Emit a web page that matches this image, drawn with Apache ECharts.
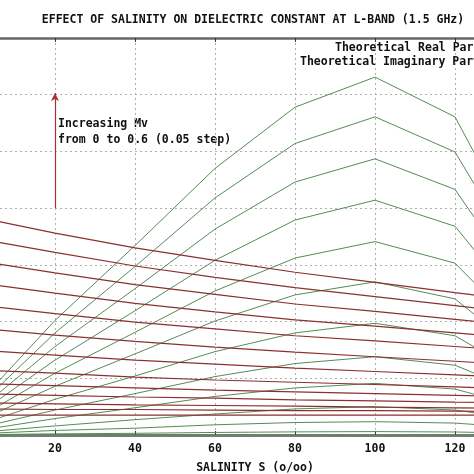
<!DOCTYPE html>
<html>
<head>
<meta charset="utf-8">
<script src="https://cdn.jsdelivr.net/npm/echarts@6/dist/echarts.min.js"></script>
<style>
  html,body{margin:0;padding:0;background:#fff;overflow:hidden;}
  body{width:474px;height:474px;position:relative;}
  /* the plot runs past both edges of the picture, like the cropped original */
  #chart{position:absolute;left:-25px;top:0;width:560px;height:474px;}
</style>
</head>
<body>
<div id="chart"></div>
<script>
// salinity (o/oo) where the curves were read
const salinity = [0, 20, 40, 60, 80, 100, 120, 140]
// soil moisture Mv, 0 to 0.6 by 0.05
const mvSteps = ['0.60','0.55','0.50','0.45','0.40','0.35','0.30','0.25','0.20','0.15','0.10','0.05','0.00']

// theoretical real part, one row per Mv (top row = 0.60)
const realPart = [
  [38.5, 35.6, 33.0, 30.8, 28.7, 26.9, 25.1, 23.4],
  [34.7, 32.2, 29.8, 27.8, 26.0, 24.4, 22.8, 21.2],
  [30.8, 28.6, 26.5, 24.8, 23.1, 21.8, 20.4, 19.0],
  [26.9, 25.0, 23.2, 21.7, 20.3, 19.2, 18.0, 16.8],
  [23.0, 21.4, 19.9, 18.7, 17.5, 16.6, 15.6, 14.6],
  [18.9, 17.6, 16.5, 15.5, 14.6, 13.8, 13.0, 12.2],
  [15.0, 14.1, 13.2, 12.5, 11.8, 11.2, 10.6, 10.0],
  [11.5, 10.9, 10.2, 9.7, 9.3, 8.9, 8.5, 8.0],
  [9.1, 8.7, 8.3, 7.9, 7.6, 7.3, 7.0, 6.7],
  [7.3, 7.0, 6.7, 6.5, 6.2, 6.0, 5.8, 5.7],
  [5.7, 5.5, 5.3, 5.2, 5.1, 4.9, 4.8, 4.7],
  [4.6, 4.5, 4.5, 4.4, 4.3, 4.3, 4.2, 4.1],
  [3.5, 3.5, 3.5, 3.5, 3.5, 3.5, 3.5, 3.5]
]

// theoretical imaginary part, same order
const imagPart = [
  [5.0, 20.2, 33.4, 47.0, 57.8, 63.1, 56.1, 29.7],
  [4.5, 18.0, 29.7, 41.8, 51.4, 56.1, 49.9, 26.4],
  [3.9, 15.6, 25.8, 36.3, 44.6, 48.7, 43.3, 22.9],
  [3.3, 13.2, 21.9, 30.8, 37.9, 41.4, 36.8, 19.5],
  [2.7, 10.9, 18.1, 25.4, 31.2, 34.1, 30.3, 16.0],
  [2.2, 8.6, 14.3, 20.1, 24.7, 27.0, 24.0, 12.7],
  [1.6, 6.3, 10.4, 14.7, 18.0, 19.7, 17.5, 9.3],
  [1.1, 4.4, 7.3, 10.3, 12.6, 13.8, 12.3, 6.5],
  [0.7, 2.9, 4.8, 6.8, 8.3, 9.1, 8.1, 4.3],
  [0.4, 1.6, 2.7, 3.7, 4.6, 5.0, 4.4, 2.4],
  [0.2, 0.8, 1.2, 1.8, 2.2, 2.35, 2.1, 1.1],
  [0.05, 0.2, 0.3, 0.45, 0.55, 0.6, 0.53, 0.28],
  [0, 0, 0, 0, 0, 0, 0, 0]
]

// arrow "increasing Mv" drawn at S = 20
const arrowFrom = [20, 40]
const arrowTo = [20, 60.3]

let chart = echarts.init(document.getElementById('chart'))
let font = 'DejaVu Sans Mono'
let textFont = 'bold 11.5px "DejaVu Sans Mono"'
let series = []

for(let i=0;i<imagPart.length;i++){
  series.push({
    name:'Imag Mv ' + mvSteps[i],
    type:'line',
    symbol:'none',
    silent:true,
    data: salinity.map((s,j) => [s, imagPart[i][j]]),
    lineStyle:{color:'#548c54', width:1},
    z:2
  })
}
for(let i=0;i<realPart.length;i++){
  let obj = {
    name:'Real Mv ' + mvSteps[i],
    type:'line',
    symbol:'none',
    silent:true,
    data: salinity.map((s,j) => [s, realPart[i][j]]),
    lineStyle:{color:'#8a3030', width:1.2},
    z:3
  }
  if(i === 0){
    obj.markLine = {
      silent:true,
      symbol:['none','arrow'],
      symbolSize:[6,8],
      label:{show:false},
      lineStyle:{color:'#a83030', width:1.2, type:'solid'},
      data:[[{coord:arrowFrom},{coord:arrowTo}]]
    }
  }
  series.push(obj)
}

// chart div starts 25px left of the page, so page x + 25 below
let option = {
  backgroundColor:'#fff',
  animation:false,
  title:{
    text:'EFFECT OF SALINITY ON DIELECTRIC CONSTANT AT L-BAND (1.5 GHz)',
    left:273,
    top:9,
    textAlign:'center',
    textStyle:{fontFamily:font, fontWeight:'bold', fontSize:11.5, color:'#111'}
  },
  grid:{
    left:0,
    right:0,
    top:38,
    bottom:39,
    outerBoundsMode:'none'
  },
  xAxis:[
    {
      type:'value',
      min:0,
      max:140,
      interval:20,
      name:'SALINITY S (o/oo)',
      nameLocation:'middle',
      nameGap:27,
      nameTextStyle:{fontFamily:font, fontWeight:'bold', fontSize:11.5, color:'#111'},
      axisLine:{lineStyle:{color:'#7a7a7a', width:3}},
      axisTick:{inside:true, length:4, lineStyle:{color:'#333'}},
      axisLabel:{
        showMinLabel:false,
        showMaxLabel:false,
        margin:8,
        fontFamily:font, fontWeight:'bold', fontSize:11.5, color:'#111'
      },
      splitLine:{show:true, lineStyle:{color:'#b0b0b0', type:[2,3], width:1}}
    },
    {
      type:'value',
      position:'top',
      min:0,
      max:140,
      interval:20,
      axisLine:{show:true, lineStyle:{color:'#666', width:2.5}},
      axisTick:{inside:true, length:4, lineStyle:{color:'#333'}},
      axisLabel:{show:false},
      splitLine:{show:false}
    }
  ],
  yAxis:{
    type:'value',
    min:0,
    max:70,
    interval:10,
    axisLine:{show:false},
    axisTick:{show:false},
    axisLabel:{show:false},
    splitLine:{show:true, lineStyle:{color:'#b0b0b0', type:[2,3], width:1}}
  },
  graphic:[
    {type:'text', left:360, top:42, style:{text:'Theoretical Real Part', font:textFont, fill:'#111'}},
    {type:'text', left:325, top:56, style:{text:'Theoretical Imaginary Part', font:textFont, fill:'#111'}},
    {type:'text', left:83, top:118, style:{text:'Increasing Mv', font:textFont, fill:'#111'}},
    {type:'text', left:83, top:134, style:{text:'from 0 to 0.6 (0.05 step)', font:textFont, fill:'#111'}}
  ],
  series:series
}
chart.setOption(option)
</script>
</body>
</html>
